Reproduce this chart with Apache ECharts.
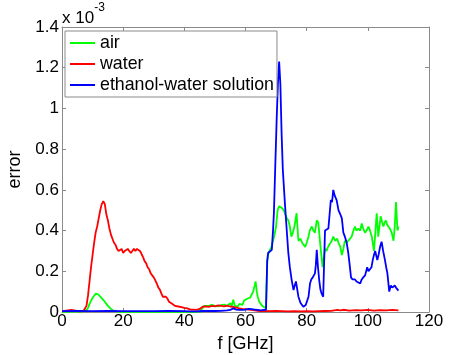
<!DOCTYPE html>
<html><head><meta charset="utf-8">
<script src="https://cdn.jsdelivr.net/npm/echarts@6/dist/echarts.min.js"></script>
<style>html,body{margin:0;padding:0;background:#fff}#c{width:474px;height:355px}</style>
</head><body><div id="c"></div>
<script>
// values in units of 1e-3
const seriesNames = ['air', 'water', 'ethanol-water solution'];
const xTickStep = 20, xMin = 0, xMax = 120;
const yTickStep = 0.2, yMin = 0, yMax = 1.4;

const airFreq = [0,2,4,6,7,8,8.5,9,9.5,10,10.5,11,11.5,12,12.5,13,13.5,14,14.5,15,15.5,16,16.5,17,18,20,25,30,35,40,44,45,46,46.5,47,48,48.5,49,49.5,50,50.5,51,52,52.5,53,54,54.5,55,55.5,56,56.5,57,57.5,58,58.5,59,59.5,60,60.5,61,61.5,62,62.5,63,63.3,63.7,64,64.5,65,65.5,66,66.7,67.1,67.5,68,68.5,69,69.5,70,70.5,71,71.5,72,72.5,73,73.5,74,74.5,75,75.5,76,76.7,77.3,78,78.5,79,79.5,80,80.6,81,81.7,82.2,82.7,83.3,83.8,84.4,85.2,86,86.5,87,87.6,88.2,88.7,89.3,90,90.4,91,91.5,92,92.5,93,93.6,94.2,94.7,95.3,95.8,96.3,96.9,97.5,98,98.5,99.1,99.6,100.2,100.7,101.3,101.7,102,102.5,102.9,103.4,103.8,104.2,104.7,105.1,105.5,105.9,106.3,106.7,107.2,107.8,108.1,108.4,108.8,109.2,109.7,110];
const airErr = [0,0.002,0.002,0.002,0.003,0.01,0.02,0.04,0.055,0.07,0.08,0.09,0.09,0.085,0.075,0.07,0.06,0.05,0.04,0.03,0.022,0.015,0.01,0.005,0.002,0.001,0.001,0.001,0.001,0.001,0.001,0.002,0.02,0.03,0.026,0.03,0.025,0.035,0.043,0.03,0.034,0.028,0.034,0.03,0.036,0.03,0.035,0.043,0.03,0.06,0.03,0.035,0.028,0.04,0.045,0.035,0.055,0.05,0.065,0.06,0.07,0.075,0.1,0.13,0.15,0.1,0.075,0.05,0.04,0.03,0.025,0.018,0.25,0.29,0.29,0.32,0.35,0.38,0.42,0.5,0.52,0.525,0.51,0.5,0.48,0.46,0.45,0.42,0.37,0.39,0.42,0.485,0.35,0.36,0.34,0.33,0.32,0.34,0.37,0.4,0.42,0.4,0.39,0.45,0.44,0.34,0.22,0.31,0.3,0.32,0.32,0.35,0.37,0.35,0.36,0.34,0.32,0.28,0.31,0.35,0.34,0.35,0.36,0.37,0.4,0.42,0.4,0.41,0.4,0.435,0.41,0.39,0.4,0.42,0.4,0.37,0.33,0.3,0.4,0.485,0.37,0.42,0.47,0.44,0.42,0.44,0.45,0.43,0.42,0.41,0.39,0.37,0.35,0.42,0.54,0.4,0.42];

const waterFreq = [0,1,2,3,4,5,6,7,7.5,8,8.5,9,9.5,10,10.5,11,11.5,12,12.5,13,13.5,14,14.5,15,15.5,16,16.5,17,17.5,18,18.5,19,19.5,20,20.5,21,21.5,22,22.5,23,23.5,24,24.5,25,25.5,26,26.5,27,27.5,28,28.5,29,29.5,30,30.5,31,31.5,32,32.5,33,33.5,34,34.5,35,35.5,36,37,38,39,40,41,42,43,44,45,46,47,48,49,50,51,52,53,54,55,56,57,58,59,60,61,62,63,64,65,66,68,70,72,74,76,78,80,82,84,86,88,90,91,92,94,96,98,100,102,104,106,108,110];
const waterErr = [0.003,0.005,0.008,0.01,0.008,0.004,0.003,0.005,0.01,0.03,0.08,0.15,0.22,0.28,0.34,0.39,0.42,0.46,0.5,0.53,0.545,0.53,0.48,0.45,0.41,0.38,0.36,0.34,0.33,0.31,0.3,0.3,0.31,0.29,0.3,0.3,0.31,0.3,0.29,0.3,0.31,0.3,0.31,0.305,0.3,0.285,0.27,0.25,0.24,0.22,0.21,0.19,0.18,0.17,0.155,0.14,0.12,0.11,0.09,0.075,0.075,0.075,0.065,0.05,0.045,0.04,0.03,0.027,0.024,0.02,0.018,0.012,0.012,0.01,0.015,0.026,0.028,0.025,0.03,0.028,0.032,0.03,0.028,0.031,0.027,0.025,0.022,0.018,0.015,0.014,0.012,0.01,0.008,0.006,0.005,0.005,0.004,0.005,0.004,0.003,0.004,0.003,0.004,0.003,0.004,0.005,0.006,0.01,0.008,0.011,0.007,0.009,0.008,0.01,0.007,0.009,0.008,0.01,0.008];

const ethanolFreq = [0,5,10,15,20,25,30,35,40,42,44,46,48,50,52,54,55,56,57,58,59,60,61,61.5,62,63,64,65,66,66.7,67.1,67.4,68,68.6,69,69.3,69.7,70.2,70.6,71,71.4,71.8,72.2,72.9,73.4,74,74.5,75.1,75.7,76.1,76.5,77.3,78,78.9,79.3,79.7,80.6,81.1,81.5,82,82.7,83,83.3,83.7,84.1,84.5,84.9,85.4,86,86.5,87.1,87.5,87.9,88.3,88.7,89.2,89.8,90.4,91,91.5,92,92.5,93.1,93.6,94,94.5,95,95.8,96.3,96.9,97.5,98,98.5,99.1,99.8,100.2,100.7,101.2,101.6,102,102.4,103.1,103.5,104,104.5,105,105.6,106,106.4,107,107.5,108,108.4,108.8,109.2,109.6,110];
const ethanolErr = [0.004,0.005,0.004,0.005,0.004,0.004,0.004,0.005,0.004,0.003,0.003,0.005,0.006,0.005,0.006,0.008,0.01,0.018,0.012,0.01,0.01,0.012,0.015,0.018,0.014,0.012,0.01,0.008,0.01,0.01,0.25,0.29,0.29,0.305,0.4,0.49,0.7,0.95,1.12,1.23,1.12,0.88,0.7,0.53,0.42,0.29,0.22,0.157,0.108,0.13,0.15,0.075,0.044,0.026,0.025,0.034,0.075,0.14,0.16,0.17,0.19,0.23,0.305,0.22,0.157,0.11,0.09,0.075,0.4,0.4,0.41,0.48,0.55,0.54,0.6,0.57,0.55,0.5,0.48,0.46,0.39,0.37,0.34,0.29,0.24,0.17,0.16,0.16,0.15,0.15,0.14,0.16,0.17,0.18,0.22,0.2,0.2,0.22,0.255,0.28,0.3,0.255,0.28,0.32,0.345,0.3,0.255,0.22,0.19,0.1,0.13,0.12,0.12,0.13,0.12,0.12,0.105];

const colors = ['#00ff00', '#ff0000', '#0000ff'];
const FONT = "'Liberation Sans', Arial, sans-serif";
const axisGrey = '#8a8a8a';

function zip(a, b) { return a.map((v, i) => [v, b[i]]); }

const chart = echarts.init(document.getElementById('c'), null, { renderer: 'canvas' });
const baseAxis = {
  axisLine: { show: true, onZero: false, lineStyle: { color: axisGrey, width: 1 } },
  axisTick: { show: true, inside: true, length: 4, lineStyle: { color: axisGrey } },
  splitLine: { show: false },
  axisLabel: { color: '#000', fontSize: 17, fontFamily: FONT }
};
const option = {
  animation: false,
  backgroundColor: '#fff',
  grid: { left: 62, right: 45, top: 27, bottom: 43, containLabel: false, outerBoundsMode: 'none' },
  xAxis: [
    Object.assign({}, baseAxis, { type: 'value', min: xMin, max: xMax, interval: xTickStep, position: 'bottom',
      name: 'f [GHz]', nameLocation: 'middle', nameGap: 18,
      nameTextStyle: { color: '#000', fontSize: 18, fontFamily: FONT },
      axisLabel: Object.assign({}, baseAxis.axisLabel, { margin: 1 }) }),
    Object.assign({}, baseAxis, { type: 'value', min: xMin, max: xMax, interval: xTickStep, position: 'top',
      axisLabel: { show: false } })
  ],
  yAxis: [
    Object.assign({}, baseAxis, { type: 'value', min: yMin, max: yMax, interval: yTickStep, position: 'left',
      name: 'error', nameLocation: 'middle', nameGap: 36,
      nameTextStyle: { color: '#000', fontSize: 18, fontFamily: FONT },
      axisLabel: Object.assign({}, baseAxis.axisLabel, { margin: 3, formatter: v => String(+v.toFixed(1)) }) }),
    Object.assign({}, baseAxis, { type: 'value', min: yMin, max: yMax, interval: yTickStep, position: 'right',
      axisLabel: { show: false } })
  ],
  legend: {
    orient: 'vertical', left: 65, top: 31,
    backgroundColor: '#fff', borderColor: axisGrey, borderWidth: 1, borderRadius: 0,
    padding: [3, 3, 3, 5], itemGap: 3, itemWidth: 25, itemHeight: 2, icon: 'rect',
    textStyle: { color: '#000', fontSize: 17.8, fontFamily: FONT },
    data: seriesNames
  },
  graphic: [{
    type: 'text', left: 62, top: 2,
    style: {
      text: '{a|x 10}{b|-3}', fontFamily: FONT,
      rich: { a: { fontSize: 17, fontFamily: FONT, fill: '#000', padding: [8, 0, 0, 0] },
              b: { fontSize: 12, fontFamily: FONT, fill: '#000', verticalAlign: 'top', padding: [0, 0, 8, 0] } }
    }
  }],
  series: [
    { name: seriesNames[0], type: 'line', data: zip(airFreq, airErr), color: colors[0], showSymbol: false, lineStyle: { width: 1.8 } },
    { name: seriesNames[1], type: 'line', data: zip(waterFreq, waterErr), color: colors[1], showSymbol: false, lineStyle: { width: 1.8 } },
    { name: seriesNames[2], type: 'line', data: zip(ethanolFreq, ethanolErr), color: colors[2], showSymbol: false, lineStyle: { width: 1.8 } }
  ]
};
chart.setOption(option);
</script>
</body></html>
